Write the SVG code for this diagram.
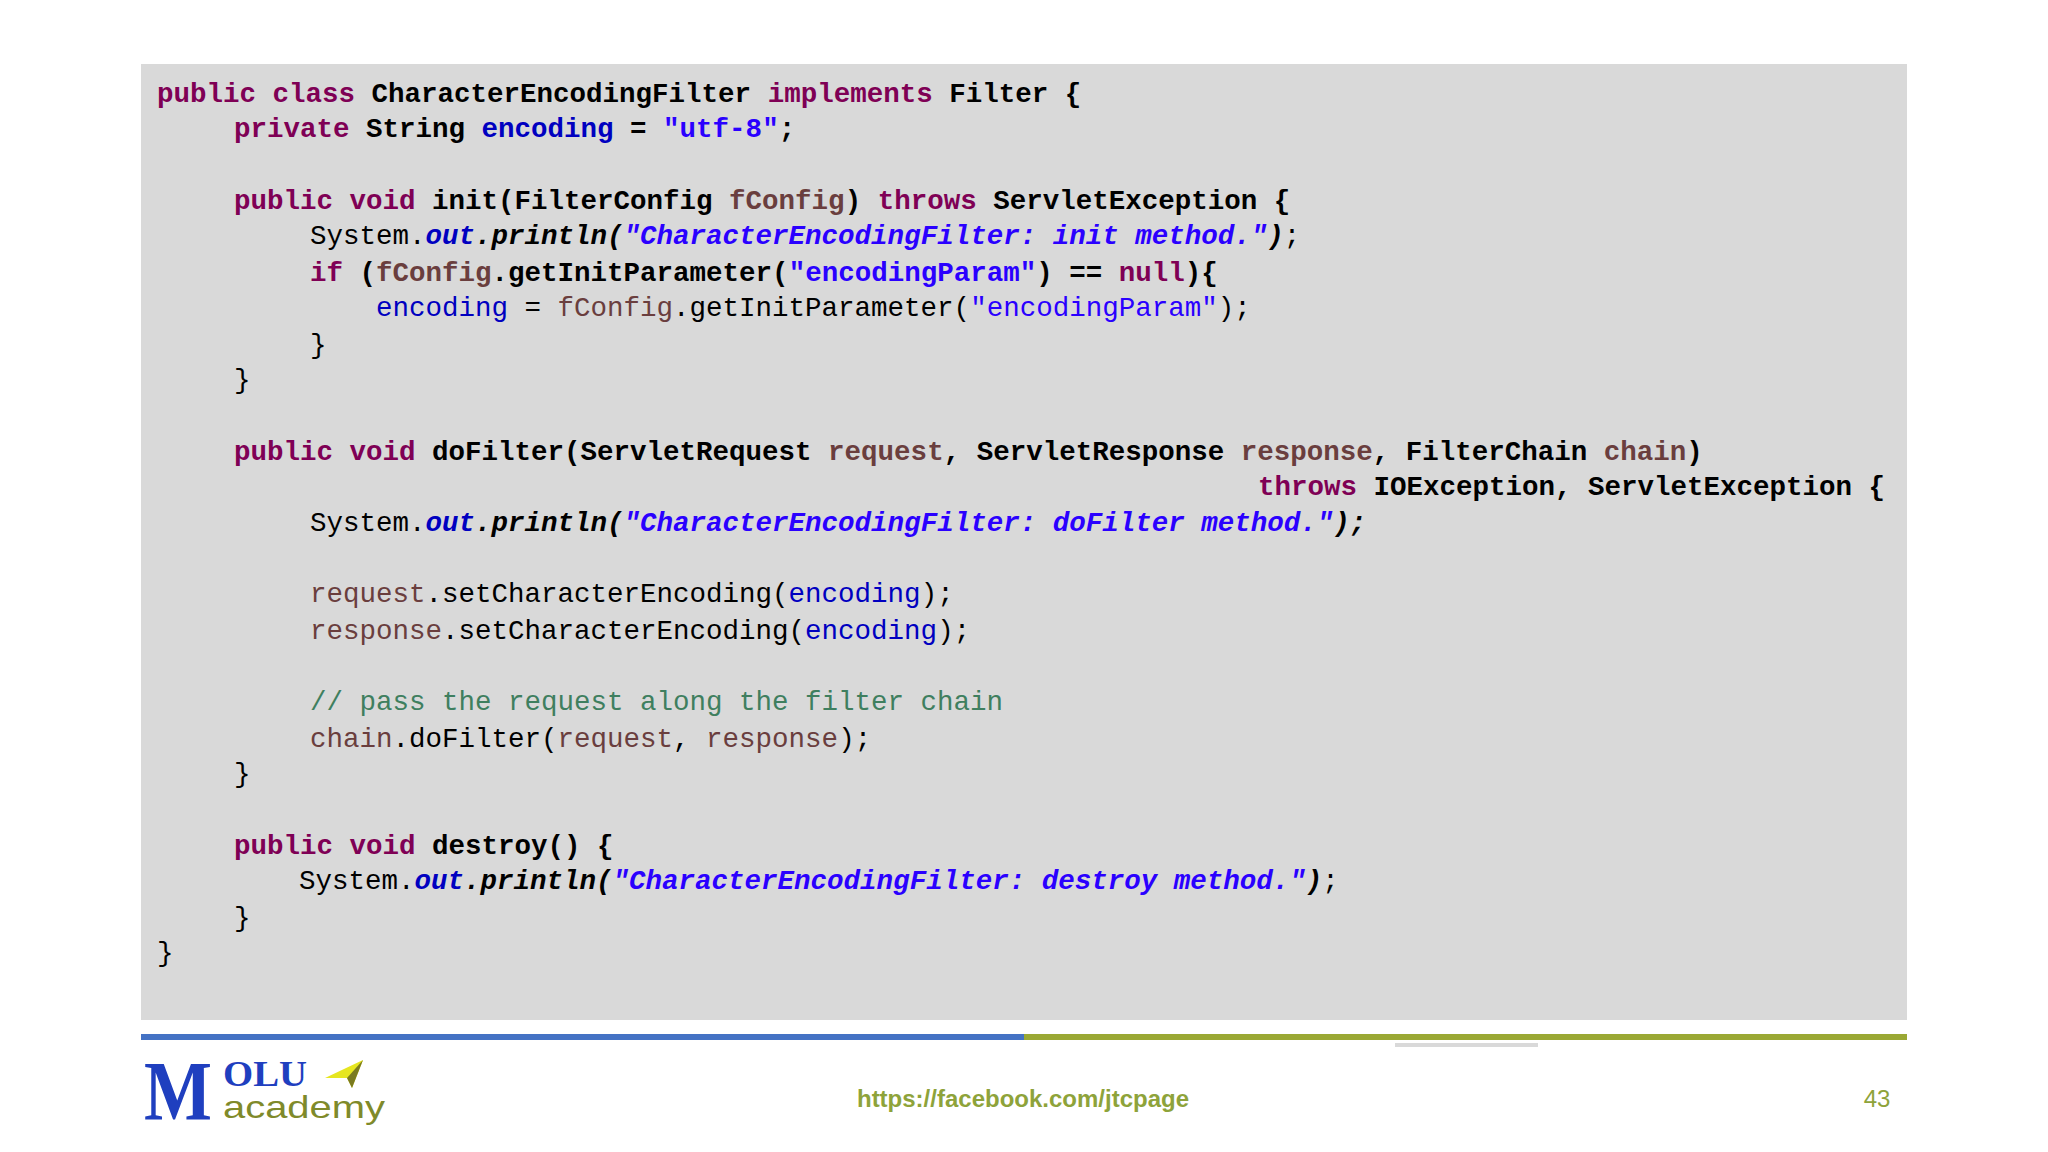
<svg xmlns="http://www.w3.org/2000/svg" width="2048" height="1152" viewBox="0 0 2048 1152">
<style>
.c{font-family:"Liberation Mono",monospace;font-size:27.5px;fill:#000;white-space:pre}
.b{font-weight:bold}
.k{fill:#7f0055;font-weight:bold}
.f{fill:#0000c0}
.s{fill:#2a00ff}
.i{font-style:italic}
.p{fill:#6a3e3e}
.m{fill:#3f7f5f}
</style>
<rect x="0" y="0" width="2048" height="1152" fill="#fff"/>
<rect x="141" y="64" width="1766" height="956" fill="#d9d9d9"/>
<g id="code" class="c">
<text x="157" y="102" class="b"><tspan class="k">public class</tspan> CharacterEncodingFilter <tspan class="k">implements</tspan> Filter {</text>
<text x="234" y="137" class="b"><tspan class="k">private</tspan> String <tspan class="f">encoding</tspan> = <tspan class="s">"utf-8"</tspan>;</text>
<text x="234" y="209" class="b"><tspan class="k">public void</tspan> init(FilterConfig <tspan class="p">fConfig</tspan>) <tspan class="k">throws</tspan> ServletException {</text>
<text x="310" y="244">System.<tspan class="f i b">out</tspan><tspan class="i b">.println(</tspan><tspan class="s i b">"CharacterEncodingFilter: init method."</tspan><tspan class="i b">)</tspan>;</text>
<text x="310" y="281" class="b"><tspan class="k">if</tspan> (<tspan class="p">fConfig</tspan>.getInitParameter(<tspan class="s">"encodingParam"</tspan>) == <tspan class="k">null</tspan>){</text>
<text x="376" y="316"><tspan class="f">encoding</tspan> = <tspan class="p">fConfig</tspan>.getInitParameter(<tspan class="s">"encodingParam"</tspan>);</text>
<text x="310" y="353">}</text>
<text x="234" y="388">}</text>
<text x="234" y="460" class="b"><tspan class="k">public void</tspan> doFilter(ServletRequest <tspan class="p">request</tspan>, ServletResponse <tspan class="p">response</tspan>, FilterChain <tspan class="p">chain</tspan>)</text>
<text x="1258" y="495" class="b"><tspan class="k">throws</tspan> IOException, ServletException {</text>
<text x="310" y="531">System.<tspan class="f i b">out</tspan><tspan class="i b">.println(</tspan><tspan class="s i b">"CharacterEncodingFilter: doFilter method."</tspan><tspan class="i b">);</tspan></text>
<text x="310" y="602"><tspan class="p">request</tspan>.setCharacterEncoding(<tspan class="f">encoding</tspan>);</text>
<text x="310" y="639"><tspan class="p">response</tspan>.setCharacterEncoding(<tspan class="f">encoding</tspan>);</text>
<text x="310" y="710" class="m">// pass the request along the filter chain</text>
<text x="310" y="747"><tspan class="p">chain</tspan>.doFilter(<tspan class="p">request</tspan>, <tspan class="p">response</tspan>);</text>
<text x="234" y="782">}</text>
<text x="234" y="854" class="b"><tspan class="k">public void</tspan> destroy() {</text>
<text x="299" y="889">System.<tspan class="f i b">out</tspan><tspan class="i b">.println(</tspan><tspan class="s i b">"CharacterEncodingFilter: destroy method."</tspan><tspan class="i b">)</tspan>;</text>
<text x="234" y="926">}</text>
<text x="157" y="961">}</text>
</g>
<g id="footer">
<rect x="141" y="1034" width="883" height="6" fill="#4472c4"/>
<rect x="1024" y="1034" width="883" height="6" fill="#9aa834"/>
<rect x="1395" y="1043" width="143" height="4" fill="#d9d9d9"/>
<text x="1023" y="1107" text-anchor="middle" font-family="Liberation Sans, sans-serif" font-weight="bold" font-size="24" fill="#8ea33a">https://facebook.com/jtcpage</text>
<text x="1877" y="1107" text-anchor="middle" font-family="Liberation Sans, sans-serif" font-size="24" fill="#8ea33a">43</text>
</g>
<g id="logo">
<text x="144" y="1120" font-family="Liberation Serif, serif" font-weight="bold" font-size="84" fill="#1f3fbf" textLength="68" lengthAdjust="spacingAndGlyphs">M</text>
<text x="223" y="1086" font-family="Liberation Serif, serif" font-weight="bold" font-size="36" fill="#1f3fbf" textLength="84" lengthAdjust="spacingAndGlyphs">OLU</text>
<text x="223" y="1118" font-family="Liberation Sans, sans-serif" font-size="32" fill="#7f8a2a" textLength="162" lengthAdjust="spacingAndGlyphs">academy</text>
<polygon points="325,1078 363,1060 352,1088 347,1078" fill="#e6e620"/>
<polygon points="347,1078 363,1060 352,1088" fill="#7a7a20"/>
</g>
</svg>
